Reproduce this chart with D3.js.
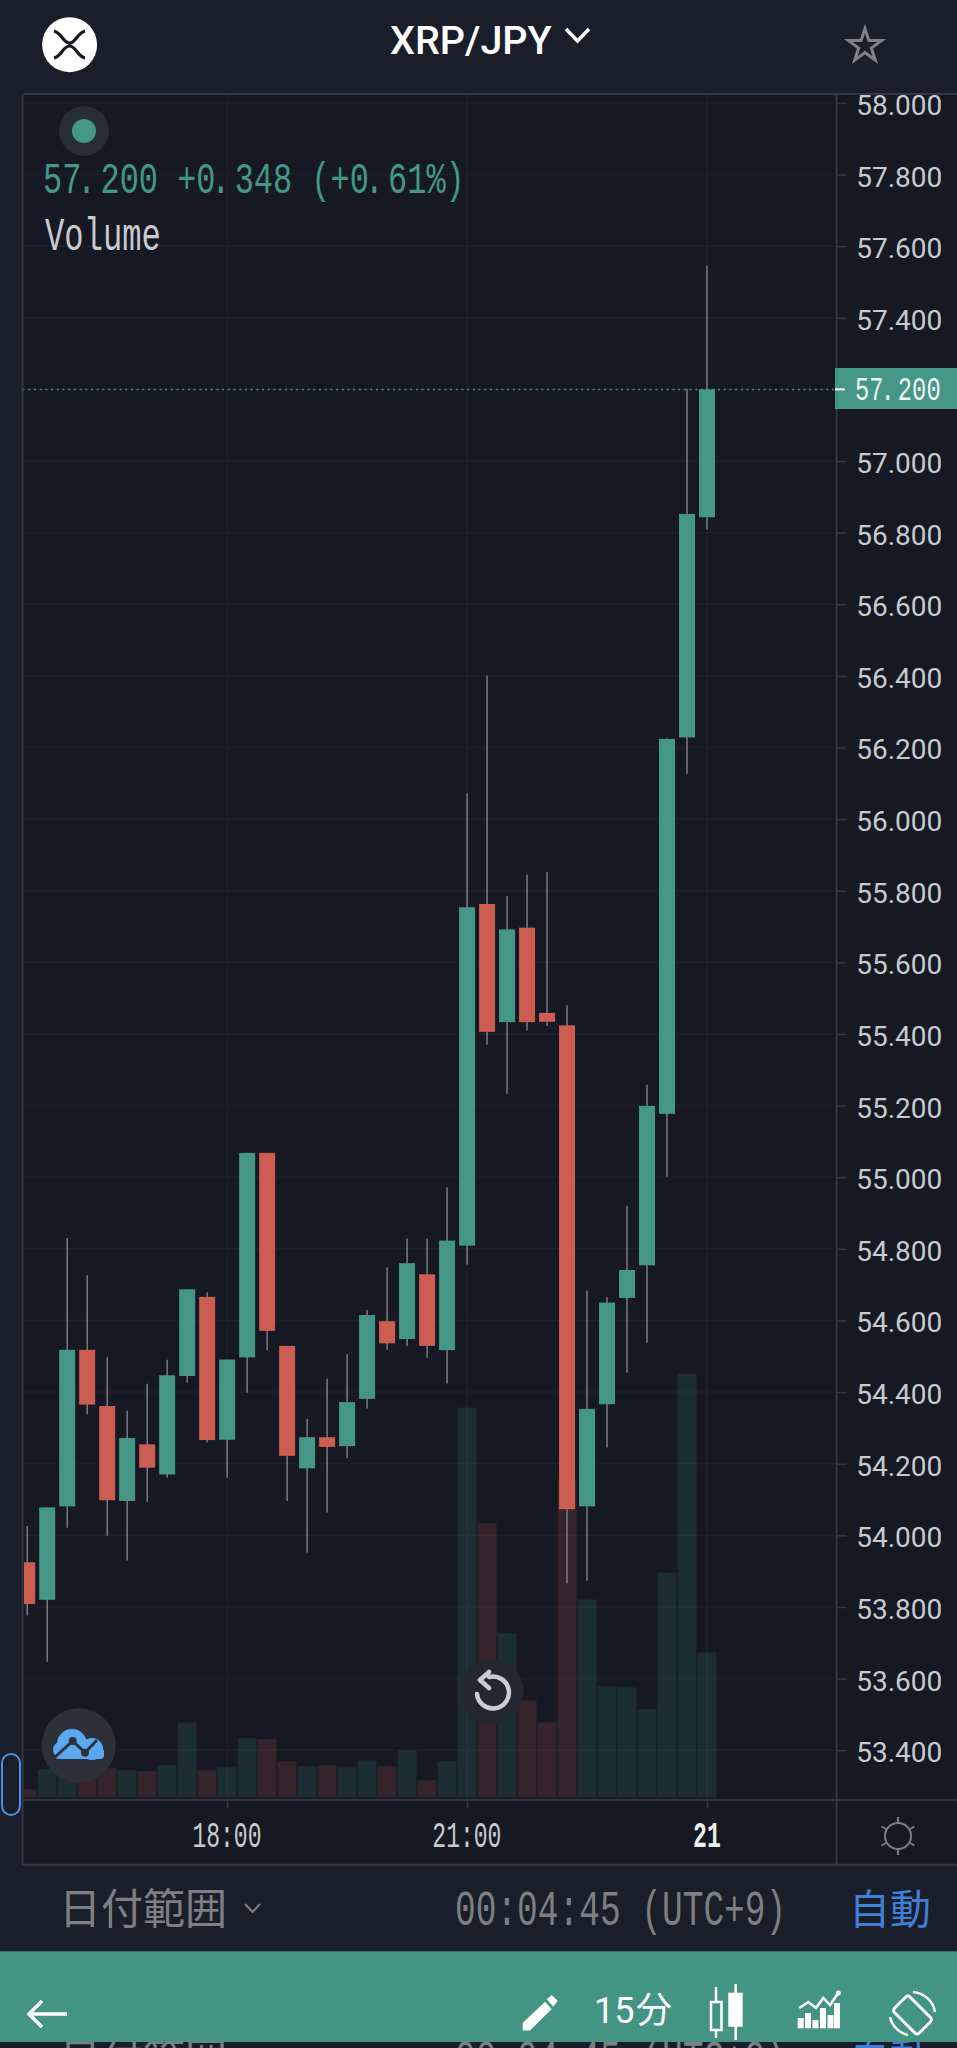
<!DOCTYPE html>
<html>
<head>
<meta charset="utf-8">
<script src="https://cdn.jsdelivr.net/npm/d3@7"></script>
<style>
  html, body { margin: 0; padding: 0; background: #1a1e2a; }
  svg { display: block; }
</style>
</head>
<body>
<svg id="chart" width="957" height="2048"></svg>
<script>
// 15 minute candles
var times = ["15:30","15:45","16:00","16:15","16:30","16:45","17:00","17:15","17:30","17:45",
  "18:00","18:15","18:30","18:45","19:00","19:15","19:30","19:45","20:00","20:15","20:30","20:45",
  "21:00","21:15","21:30","21:45","22:00","22:15","22:30","22:45","23:00","23:15","23:30","23:45","00:00"];
var opens = [53.925,53.820,54.081,54.518,54.361,54.096,54.254,54.170,54.445,54.666,
  54.267,54.497,55.068,54.529,54.187,54.274,54.249,54.381,54.598,54.548,54.729,54.517,
  54.809,55.763,55.433,55.697,55.459,55.424,54.081,54.366,54.663,54.754,55.177,56.228,56.843];
var highs = [54.026,54.078,54.830,54.726,54.497,54.348,54.423,54.490,54.687,54.679,
  54.491,55.068,55.068,54.529,54.325,54.438,54.506,54.629,54.748,54.829,54.829,54.971,
  56.072,56.400,55.785,55.845,55.852,55.480,54.684,54.665,54.920,55.258,56.226,57.202,57.545];
var lows = [53.776,53.647,54.021,54.338,53.999,53.930,54.094,54.161,54.427,54.259,
  54.161,54.398,54.517,54.096,53.952,54.064,54.215,54.354,54.518,54.528,54.496,54.424,
  54.756,55.370,55.233,55.410,55.422,53.866,53.873,54.245,54.455,54.538,55.001,56.127,56.808];
var closes = [53.808,54.078,54.518,54.365,54.098,54.272,54.189,54.447,54.687,54.266,
  54.491,55.068,54.571,54.222,54.274,54.247,54.372,54.615,54.536,54.760,54.529,54.823,
  55.754,55.406,55.692,55.433,55.434,54.073,54.353,54.650,54.741,55.199,56.224,56.852,57.200];
var volumes = [8,28,24,26,29,27,26,32,75,27,30,59,58,36,31,32,30,37,31,47,17,36,
  390,274,164,97,75,318,198,111,110,88,225,424,145];

var priceTicks = [58,57.8,57.6,57.4,57.2,57,56.8,56.6,56.4,56.2,56,55.8,55.6,55.4,55.2,55,54.8,54.6,54.4,54.2,54,53.8,53.6,53.4];
var timeTicks = ["18:00","21:00","00:00"];
var timeLabels = ["18:00","21:00","21"];
var lastPrice = 57.2;

var UP = "#449786", DOWN = "#cd5c51", PAGE = "#1a1e2a", PLOT = "#161924";
var FRAME = "#343742", GRID = "#1d202b", WICK = "#7f828a", LABEL = "#c9cacd", MUTED = "#7d7f85";
var MONO = "'Liberation Mono', monospace", CJK = "'Noto Sans CJK JP', sans-serif";

var svg = d3.select("#chart");

// Scales
var x = d3.scalePoint().domain(times).range([27.2, 707]);
var y = d3.scaleLinear().domain([58, 53.4]).range([102.9, 1750.2]);
var yVol = d3.scaleLinear().domain([0, 424]).range([1797.3, 1373.7]);
var left = 22.6, top_ = 94, axisX = 836.7, plotBottom = 1800, frameBottom = 1864.7;

// Narrow half width text, the app font is a tall monospace with its dots set left in the cell
function mono(g, px, py, str, size, sx, color, weight) {
  var adv = size * 0.6;
  var cells = Array.from(str).map((c, i) => (i + (c === "." ? -0.22 : 0)) * adv);
  return g.append("text")
    .attr("transform", `translate(${px},${py}) scale(${sx},1)`)
    .attr("x", cells.join(" "))
    .attr("font-family", MONO).attr("font-size", size)
    .attr("font-weight", weight || "normal")
    .attr("fill", color).text(str);
}

function cjk(g, px, py, str, size, color) {
  return g.append("text").attr("x", px).attr("y", py)
    .attr("font-family", CJK).attr("font-size", size)
    .attr("fill", color).text(str);
}

// Panel
svg.append("rect").attr("width", 957).attr("height", 2048).attr("fill", PAGE);
svg.append("rect").attr("x", left).attr("y", top_).attr("width", 957 - left).attr("height", frameBottom - top_).attr("fill", PLOT);

svg.append("clipPath").attr("id", "plot").append("rect")
  .attr("x", 24).attr("y", top_).attr("width", axisX - 24).attr("height", plotBottom - top_ - 2);

// Grid
var grid = svg.append("g");
grid.selectAll("line.h").data(priceTicks).join("line").attr("class", "h")
  .attr("x1", left).attr("x2", axisX).attr("y1", d => y(d)).attr("y2", d => y(d))
  .attr("stroke", GRID).attr("stroke-width", 1.5);
grid.selectAll("line.v").data(timeTicks).join("line").attr("class", "v")
  .attr("x1", d => x(d)).attr("x2", d => x(d)).attr("y1", top_).attr("y2", plotBottom)
  .attr("stroke", GRID).attr("stroke-width", 1.5);

var plot = svg.append("g").attr("clip-path", "url(#plot)");

// Volume bars
plot.selectAll("rect.vol").data(times).join("rect").attr("class", "vol")
  .attr("x", d => x(d) - 9.4).attr("width", 18.8)
  .attr("y", (d, i) => yVol(volumes[i]))
  .attr("height", (d, i) => yVol(0) - yVol(volumes[i]))
  .attr("fill", (d, i) => closes[i] >= opens[i] ? UP : DOWN)
  .attr("fill-opacity", 0.17);

// Last price line
svg.append("line").attr("x1", left).attr("x2", axisX).attr("y1", y(lastPrice)).attr("y2", y(lastPrice))
  .attr("stroke", UP).attr("stroke-width", 1.5).attr("stroke-dasharray", "2 3.7");

// Candles
plot.selectAll("line.wick").data(times).join("line").attr("class", "wick")
  .attr("x1", d => x(d)).attr("x2", d => x(d))
  .attr("y1", (d, i) => y(highs[i])).attr("y2", (d, i) => y(lows[i]))
  .attr("stroke", WICK).attr("stroke-width", 1.4);
plot.selectAll("rect.body").data(times).join("rect").attr("class", "body")
  .attr("x", d => x(d) - 8).attr("width", 16)
  .attr("y", (d, i) => y(Math.max(opens[i], closes[i])))
  .attr("height", (d, i) => Math.abs(y(opens[i]) - y(closes[i])))
  .attr("fill", (d, i) => closes[i] >= opens[i] ? UP : DOWN);

// Frame
var frame = svg.append("g").attr("stroke", FRAME).attr("stroke-width", 2);
frame.append("line").attr("x1", left).attr("x2", 957).attr("y1", top_).attr("y2", top_);
frame.append("line").attr("x1", left).attr("x2", 957).attr("y1", frameBottom).attr("y2", frameBottom);
frame.append("line").attr("x1", left).attr("x2", 957).attr("y1", plotBottom).attr("y2", plotBottom);
frame.append("line").attr("x1", left).attr("x2", left).attr("y1", top_).attr("y2", frameBottom);
frame.append("line").attr("x1", axisX).attr("x2", axisX).attr("y1", top_).attr("y2", frameBottom);

// Price axis, the tag below takes the place of the last price's tick label
var yAxis = svg.append("g").attr("transform", `translate(${axisX},0)`)
  .call(d3.axisRight(y).tickValues(priceTicks).tickSize(10).tickPadding(9.5).tickFormat(d3.format(".3f")));
yAxis.select(".domain").remove();
yAxis.selectAll("line").attr("stroke", FRAME).attr("stroke-width", 1.5);
yAxis.selectAll("text").attr("dy", 11.5).attr("fill", LABEL)
  .attr("font-family", "Roboto, sans-serif").attr("font-size", 28);
yAxis.selectAll(".tick").filter(d => d === lastPrice).remove();

// Last price tag
svg.append("rect").attr("x", 835).attr("y", 368).attr("width", 122).attr("height", 41).attr("fill", UP);
svg.append("line").attr("x1", 835).attr("x2", 845).attr("y1", y(lastPrice)).attr("y2", y(lastPrice))
  .attr("stroke", "#fff").attr("stroke-width", 2);
mono(svg, 855, 400, d3.format(".3f")(lastPrice), 34, 0.7, "#eef5f3");

// Time axis
var xAxis = svg.append("g").attr("transform", `translate(0,${plotBottom})`)
  .call(d3.axisBottom(x).tickValues(timeTicks).tickSize(8).tickFormat(""));
xAxis.select(".domain").remove();
xAxis.selectAll("line").attr("stroke", FRAME).attr("stroke-width", 1.5);
timeTicks.forEach((t, i) => {
  var bold = timeLabels[i].length === 2;
  var w = timeLabels[i].length * 13.9;
  mono(svg, x(t) - w / 2, 1847, timeLabels[i], 36, 0.64, bold ? "#eceded" : LABEL, bold ? "bold" : "normal");
});

// Legend
svg.append("circle").attr("cx", 84).attr("cy", 131).attr("r", 25).attr("fill", "#272c37");
svg.append("circle").attr("cx", 84).attr("cy", 131).attr("r", 12).attr("fill", UP);
mono(svg, 43, 193, "57.200 +0.348 (+0.61%)", 45, 0.71, UP);
mono(svg, 45, 250, "Volume", 46, 0.7, LABEL);

// Header
svg.append("text").attr("x", 390).attr("y", 54).attr("fill", "#fff")
  .attr("font-family", "Roboto, sans-serif").attr("font-size", 39.5).attr("font-weight", 500)
  .text("XRP/JPY");
svg.append("path").attr("d", "M566 29 L577.5 41 L589 29").attr("fill", "none").attr("stroke", "#fff").attr("stroke-width", 3.5);
svg.append("circle").attr("cx", 69.6).attr("cy", 44.7).attr("r", 27.5).attr("fill", "#fff");
svg.append("path").attr("d", "M54 31 C62 33 63 43 69.6 43 C76 43 77 33 85 31 M54 58 C62 56 63 46 69.6 46 C76 46 77 56 85 58")
  .attr("fill", "none").attr("stroke", "#16181f").attr("stroke-width", 3.2);
svg.append("path").attr("transform", "translate(865,46)")
  .attr("d", d3.symbol().type(d3.symbolStar).size(340)())
  .attr("fill", "none").attr("stroke", "#808287").attr("stroke-width", 3);

// Sun button
var sun = svg.append("g").attr("transform", "translate(898,1836)").attr("stroke", "#7a7c82").attr("stroke-width", 2).attr("fill", "none");
sun.append("circle").attr("r", 13);
[30, 90, 150, 210, 270, 330].forEach(a => {
  var r = a * Math.PI / 180;
  sun.append("line").attr("x1", 13 * Math.cos(r)).attr("y1", 13 * Math.sin(r))
    .attr("x2", 19 * Math.cos(r)).attr("y2", 19 * Math.sin(r));
});

// Cloud button
svg.append("circle").attr("cx", 78.7).attr("cy", 1745.3).attr("r", 37).attr("fill", "#2e3039");
var cloud = svg.append("g").attr("fill", "#5aa9f0");
cloud.append("circle").attr("cx", 72).attr("cy", 1744).attr("r", 15);
cloud.append("circle").attr("cx", 92).attr("cy", 1749).attr("r", 11);
cloud.append("circle").attr("cx", 62).attr("cy", 1750).attr("r", 9);
cloud.append("rect").attr("x", 55).attr("y", 1748).attr("width", 49).attr("height", 11).attr("rx", 4);
svg.append("path").attr("d", "M54 1758 L72.7 1741 L85 1752.7 L97 1740").attr("fill", "none").attr("stroke", "#2e3039").attr("stroke-width", 3);
svg.append("circle").attr("cx", 72.7).attr("cy", 1741).attr("r", 4).attr("fill", "#2e3039");
svg.append("circle").attr("cx", 85).attr("cy", 1752.7).attr("r", 4).attr("fill", "#2e3039");

// Restore button
svg.append("circle").attr("cx", 491.7).attr("cy", 1691.7).attr("r", 32).attr("fill", "#24272f");
svg.append("path").attr("d", "M489 1677 A16 16 0 1 1 477 1694 M489 1672 L480 1680 L489 1688")
  .attr("fill", "none").attr("stroke", "#c9ccd4").attr("stroke-width", 4.5).attr("stroke-linecap", "round").attr("stroke-linejoin", "round");

// Left handle
svg.append("rect").attr("x", 2).attr("y", 1754).attr("width", 18).attr("height", 61).attr("rx", 9)
  .attr("fill", "none").attr("stroke", "#4f8fe0").attr("stroke-width", 2);

// Range row, the second copy sits behind the bottom bar and only its top shows under it
function rangeRow(g, dy) {
  cjk(g, 59, 1924 + dy, "日付範囲", 42, MUTED);
  mono(g, 455, 1925 + dy, "00:04:45 (UTC+9)", 50, 0.69, MUTED);
  cjk(g, 849, 1924 + dy, "自動", 41, "#3f7fd6");
}
rangeRow(svg, 0);
rangeRow(svg, 150);
svg.append("path").attr("d", "M245 1904 L252.5 1912 L260 1904").attr("fill", "none").attr("stroke", MUTED).attr("stroke-width", 2);

// Bottom bar
svg.append("rect").attr("x", 0).attr("y", 1951.3).attr("width", 957).attr("height", 90.7).attr("fill", "#439483");
var bar = svg.append("g").attr("fill", "none").attr("stroke", "#fff").attr("stroke-width", 3.5);
bar.append("path").attr("d", "M67 2014 L29 2014 M42 2001 L29 2014 L42 2027");
bar.append("path").attr("d", "M522.7 2030.5 L522.7 2023 L545 2001.7 L551.7 2009 L530 2030.5 Z M546.7 1999.3 L551.7 1995 L557.7 2000.7 L553.3 2006.7 Z")
  .attr("fill", "#fff").attr("stroke", "none");
svg.append("text").attr("x", 594).attr("y", 2023).attr("fill", "#fff")
  .attr("font-family", "Roboto, sans-serif").attr("font-size", 36).text("15");
cjk(svg, 636, 2023, "分", 36, "#fff");

// Candle type icon
bar.append("line").attr("x1", 716).attr("x2", 716).attr("y1", 1987).attr("y2", 2038).attr("stroke-width", 2.5);
bar.append("rect").attr("x", 711).attr("y", 2002).attr("width", 10.5).attr("height", 28).attr("fill", "#439483").attr("stroke-width", 2.5);
bar.append("line").attr("x1", 735.7).attr("x2", 735.7).attr("y1", 1984).attr("y2", 2040).attr("stroke-width", 2.5);
bar.append("rect").attr("x", 728.3).attr("y", 1992.7).attr("width", 14.4).attr("height", 34).attr("fill", "#fff").attr("stroke", "none");

// Indicator icon
var indicatorBars = [[797.7, 2018], [805, 2013], [812.5, 2020], [820, 2008], [827.5, 2015], [834, 2003]];
bar.selectAll("rect.ind").data(indicatorBars).join("rect").attr("class", "ind")
  .attr("x", d => d[0]).attr("y", d => d[1]).attr("width", 6).attr("height", d => 2028.3 - d[1])
  .attr("fill", "#fff").attr("stroke", "none");
bar.append("path").attr("d", "M799.3 2008 L808.3 2002 L816 2008 L823.3 1998 L830 2005 L838.3 1993").attr("stroke-width", 2.5);
bar.append("circle").attr("cx", 838.3).attr("cy", 1993).attr("r", 2.5).attr("fill", "#fff").attr("stroke", "none");

// Rotate icon
bar.append("rect").attr("x", -11).attr("y", -17.5).attr("width", 22).attr("height", 35).attr("rx", 3)
  .attr("transform", "translate(912.5,2015) rotate(-45)").attr("stroke-width", 3);
bar.append("path").attr("d", "M913 1992 A24 24 0 0 1 935 2012 M890 2017 A24 24 0 0 0 908 2035").attr("stroke-width", 2.5);
</script>
</body>
</html>
